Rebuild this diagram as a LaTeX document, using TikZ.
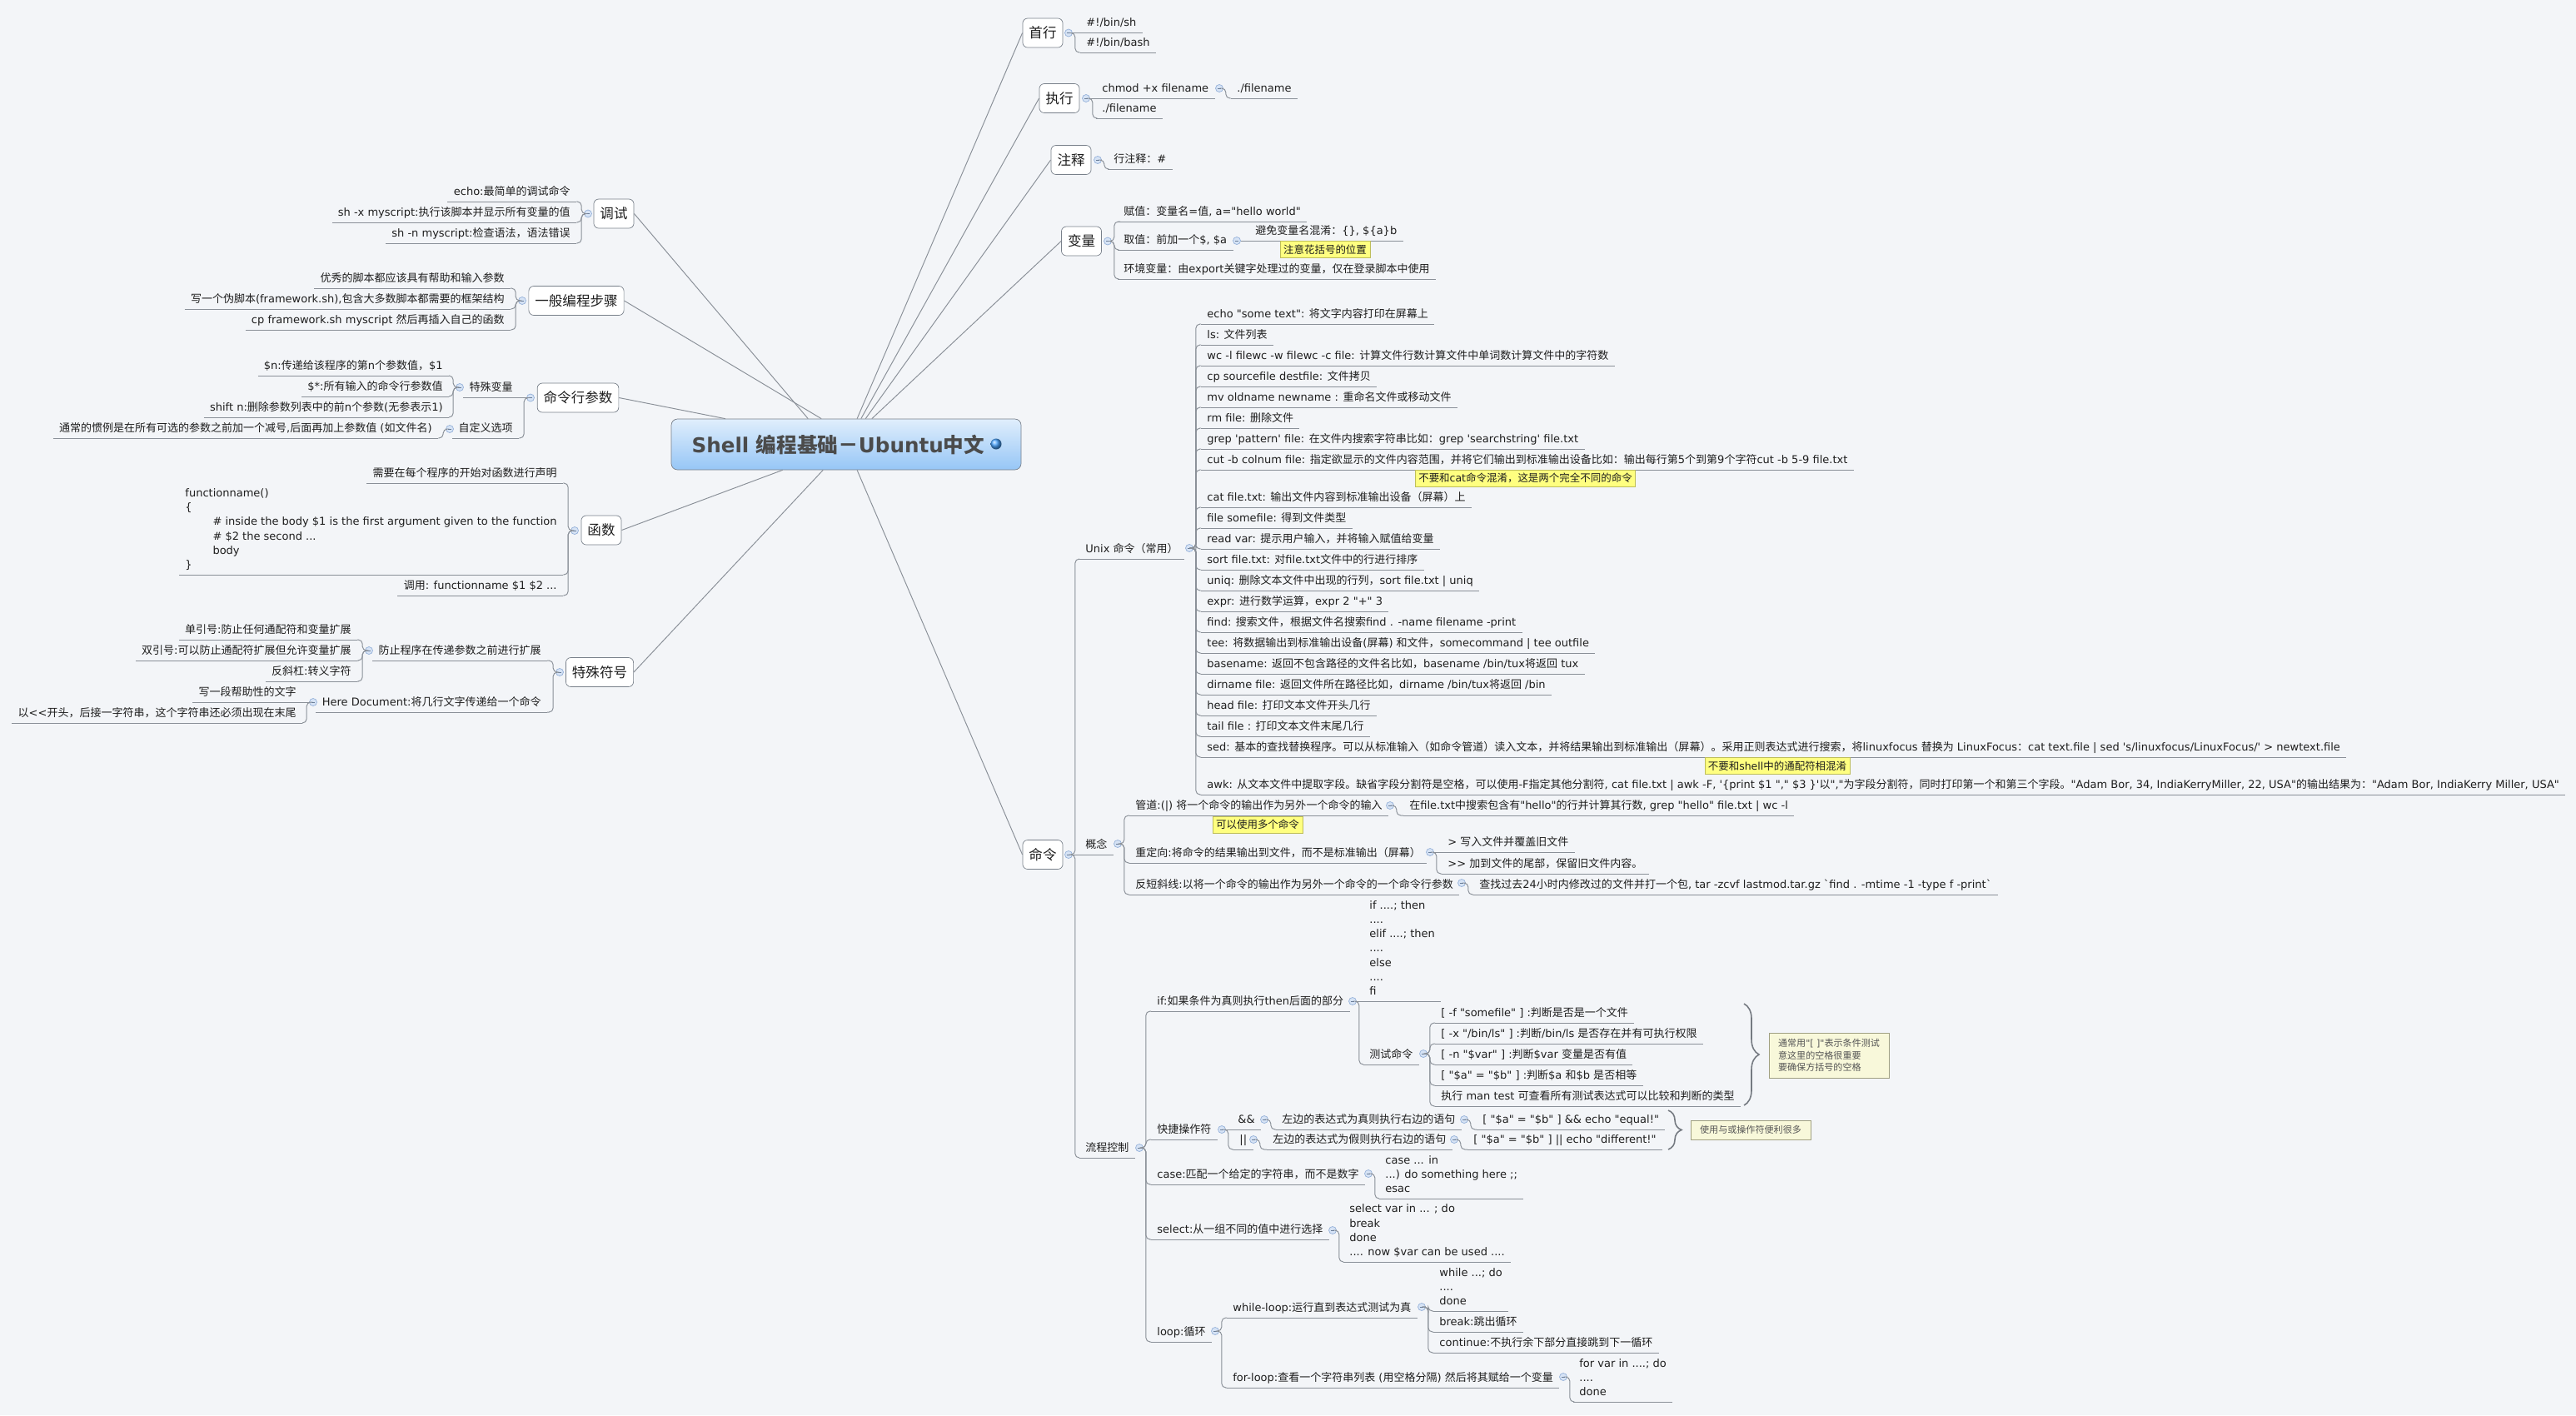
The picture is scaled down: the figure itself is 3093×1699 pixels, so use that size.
\documentclass[tikz,border=0pt]{standalone}
\usepackage{fontspec}
\setmainfont{DejaVu Sans}
\newfontfamily\latinfont{DejaVu Sans}
\newfontfamily\cjkfont{Noto Sans CJK SC}
\usetikzlibrary{decorations.pathreplacing}

% CJK characters switch to the CJK font by themselves
\newXeTeXintercharclass\cjkclass
\count255="3000
\loop
  \XeTeXcharclass\count255=\cjkclass
  \ifnum\count255<"9FFF \advance\count255 by 1
\repeat
\count255="FF00
\loop
  \XeTeXcharclass\count255=\cjkclass
  \ifnum\count255<"FFEF \advance\count255 by 1
\repeat
\XeTeXinterchartoks 0 \cjkclass={\cjkfont}
\XeTeXinterchartoks 4095 \cjkclass={\cjkfont}
\XeTeXinterchartoks \cjkclass 0={\latinfont}
\XeTeXinterchartoks \cjkclass 4095={\latinfont}
\XeTeXinterchartokenstate=1

\definecolor{cPaper}{RGB}{243,245,248}
\definecolor{cWire}{RGB}{138,144,152}
\definecolor{cInk}{RGB}{30,30,30}
\definecolor{cBox}{RGB}{120,128,138}
\definecolor{cKnob}{RGB}{214,227,245}
\definecolor{cKnobLine}{RGB}{150,178,218}
\definecolor{cTag}{RGB}{255,255,128}
\definecolor{cTagLine}{RGB}{190,190,90}
\definecolor{cMemo}{RGB}{248,248,218}
\definecolor{cMemoLine}{RGB}{160,160,130}
\definecolor{cTitleTop}{RGB}{224,238,252}
\definecolor{cTitleBot}{RGB}{150,198,246}

\newcommand\leafsize{\fontsize{7.4}{9.7}\latinfont}

\tikzset{
  wire/.style={draw=cWire, line width=0.55pt, rounded corners=1mm},
  titlebox/.style={draw=cBox, rounded corners=1.5mm, top color=cTitleTop, bottom color=cTitleBot,
    minimum width=84mm, minimum height=12.2mm, font=\fontsize{14}{16}\latinfont\bfseries, text=cInk!80},
  topic/.style={draw=cBox, fill=white, rounded corners=1.2mm, minimum height=7mm, inner xsep=4.3pt,
    font=\fontsize{9.4}{11}\latinfont, text=cInk},
  leaf/.style={font=\leafsize, text=cInk, inner xsep=4pt, inner ysep=2.5pt, text height=6pt, text depth=1.8pt,
    append after command={(\tikzlastnode.south west) edge[draw=cWire, line width=0.55pt] (\tikzlastnode.south east)}},
  leafr/.style={leaf, anchor=south west},
  leafl/.style={leaf, anchor=south east},
  block/.style={font=\leafsize, text=cInk, align=left, inner xsep=4pt, inner ysep=2.5pt, text depth=1.8pt,
    append after command={(\tikzlastnode.south west) edge[draw=cWire, line width=0.55pt] (\tikzlastnode.south east)}},
  blockr/.style={block, anchor=south west},
  blockl/.style={block, anchor=south east},
  knob/.style={circle, draw=cKnobLine, fill=cKnob, line width=0.4pt, minimum size=1.8mm, inner sep=0pt,
    path picture={\draw[cKnobLine!70!black, line width=0.5pt]
      ([xshift=-0.45mm]path picture bounding box.center) -- ([xshift=0.45mm]path picture bounding box.center);}},
  tagbox/.style={fill=cTag, draw=cTagLine, line width=0.4pt, font=\fontsize{7.1}{9}\latinfont, text=cInk,
    inner xsep=2.3pt, inner ysep=1.5pt, minimum height=4mm},
  memobox/.style={fill=cMemo, draw=cMemoLine, line width=0.5pt, font=\fontsize{6.3}{8.3}\latinfont,
    text=cInk!75, align=left, inner sep=2.5pt, minimum width=28.8mm},
  sumbrace/.style={draw=cWire!85!black, line width=0.9pt, decorate, decoration={brace, amplitude=3.6mm, aspect=0.5}}
}

\begin{document}
\begin{tikzpicture}[x=0.2mm,y=-0.2mm]
  \fill[cPaper] (0,0) rectangle (3093,1699);
  \useasboundingbox (0,0) rectangle (3093,1699);

  % Central topic
  \node[titlebox] (title) at (1016,533.5) {Shell 编程基础－Ubuntu中文\hspace*{11pt}};
  \shade[ball color=cyan!50!blue!70] (1196,533) circle[radius=1.3mm];

  % Main topics, right side
  \node[topic] (tFirst) at (1252,39.5) {首行};
  \node[topic] (tExec) at (1272,118) {执行};
  \node[topic] (tComment) at (1286,192) {注释};
  \node[topic] (tVar) at (1298.5,289.5) {变量};
  \node[topic] (tCmd) at (1252,1026) {命令};
  % Main topics, left side
  \node[topic] (tDebug) at (737,256.5) {调试};
  \node[topic] (tSteps) at (692,361) {一般编程步骤};
  \node[topic] (tArgs) at (694,477.5) {命令行参数};
  \node[topic] (tFunc) at (722,636.5) {函数};
  \node[topic] (tSpecial) at (720,807) {特殊符号};

  \draw[wire] (title.67) -- (tFirst.west);
  \draw[wire] (title.60) -- (tExec.west);
  \draw[wire] (title.53) -- (tComment.west);
  \draw[wire] (title.45) -- (tVar.west);
  \draw[wire] (title.293) -- (tCmd.west);
  \draw[wire] (title.146) -- (tDebug.east);
  \draw[wire] (title.134) -- (tSteps.east);
  \draw[wire] (title.168) -- (tArgs.east);
  \draw[wire] (title.202) -- (tFunc.east);
  \draw[wire] (title.228) -- (tSpecial.east);

  % 首行
  \node[knob] (kFirst) at (1283,39.5) {};
  \node[leafr] (first1) at (1297,39.5) {\#!/bin/sh};
  \node[leafr] (first2) at (1297,63) {\#!/bin/bash};
  \draw[wire] (kFirst.east) -- (first1.south west);
  \draw[wire] (kFirst.east) -- ++(3,0) |- (first2.south west);

  % 执行
  \node[knob] (kExec) at (1304,118) {};
  \node[leafr] (exec1) at (1316,118) {chmod +x filename};
  \node[knob] (kExec1) at (1464,106) {};
  \node[leafr] (exec11) at (1478,118) {./filename};
  \node[leafr] (exec2) at (1316,142) {./filename};
  \draw[wire] (kExec.east) -- (exec1.south west);
  \draw[wire] (kExec.east) -- ++(3,0) |- (exec2.south west);
  \draw[wire] (kExec1.east) -- ++(3,0) |- (exec11.south west);

  % 注释
  \node[knob] (kComment) at (1318,192) {};
  \node[leafr] (comment1) at (1330,203) {行注释：\#};
  \draw[wire] (kComment.east) -- ++(3,0) |- (comment1.south west);

  % 变量
  \node[knob] (kVar) at (1330,289.5) {};
  \node[leafr] (var1) at (1342,266) {赋值：变量名=值, a="hello world"};
  \node[leafr] (var2) at (1342,300) {取值：前加一个\$, \$a};
  \node[knob] (kVar2) at (1485,289) {};
  \node[leafr] (var21) at (1500,289) {避免变量名混淆：\{\}, \$\{a\}b};
  \node[tagbox] (var21Tag) at (1591,299.5) {注意花括号的位置};
  \node[leafr] (var3) at (1342,335) {环境变量：由export关键字处理过的变量，仅在登录脚本中使用};
  \draw[wire] (kVar.east) -- ++(3,0) |- (var1.south west);
  \draw[wire] (kVar.east) -- ++(3,0) |- (var2.south west);
  \draw[wire] (kVar.east) -- ++(3,0) |- (var3.south west);
  \draw[wire] (kVar2.east) -- (var21.south west);

  % 调试
  \node[knob] (kDebug) at (706,256.5) {};
  \node[leafl] (debug1) at (692,242) {echo:最简单的调试命令};
  \node[leafl] (debug2) at (692,267) {sh -x myscript:执行该脚本并显示所有变量的值};
  \node[leafl] (debug3) at (692,292) {sh -n myscript:检查语法，语法错误};
  \foreach \n in {debug1,debug2,debug3}
    \draw[wire] (kDebug.west) -- ++(-3,0) |- (\n.south east);

  % 一般编程步骤
  \node[knob] (kSteps) at (627,361) {};
  \node[leafl] (steps1) at (613,346) {优秀的脚本都应该具有帮助和输入参数};
  \node[leafl] (steps2) at (613,371) {写一个伪脚本(framework.sh),包含大多数脚本都需要的框架结构};
  \node[leafl] (steps3) at (613,396) {cp framework.sh myscript 然后再插入自己的函数};
  \foreach \n in {steps1,steps2,steps3}
    \draw[wire] (kSteps.west) -- ++(-3,0) |- (\n.south east);

  % 命令行参数
  \node[knob] (kArgs) at (637,477.5) {};
  \node[leafl] (args1) at (623,477.5) {特殊变量};
  \node[knob] (kArgs1) at (552,465) {};
  \node[leafl] (args11) at (539,451) {\$n:传递给该程序的第n个参数值，\$1};
  \node[leafl] (args12) at (539,476) {\$*:所有输入的命令行参数值};
  \node[leafl] (args13) at (539,501) {shift n:删除参数列表中的前n个参数(无参表示1)};
  \node[leafl] (args2) at (623,526) {自定义选项};
  \node[knob] (kArgs2) at (540,515) {};
  \node[leafl] (args21) at (526,526) {通常的惯例是在所有可选的参数之前加一个减号,后面再加上参数值 (如文件名)};
  \draw[wire] (kArgs.west) -- (args1.south east);
  \draw[wire] (kArgs.west) -- ++(-3,0) |- (args2.south east);
  \foreach \n in {args11,args12,args13}
    \draw[wire] (kArgs1.west) -- ++(-3,0) |- (\n.south east);
  \draw[wire] (kArgs2.west) -- ++(-3,0) |- (args21.south east);

  % 函数
  \node[knob] (kFunc) at (690,637) {};
  \node[leafl] (func1) at (676,580) {需要在每个程序的开始对函数进行声明};
  \node[blockl] (func2) at (676,690) {functionname()\\
    \{\\
    \hspace*{18.8pt}\# inside the body \$1 is the first argument given to the function\\
    \hspace*{18.8pt}\# \$2 the second ...\\
    \hspace*{18.8pt}body\\
    \}};
  \node[leafl] (func3) at (676,715) {调用: functionname \$1 \$2 ...};
  \foreach \n in {func1,func2,func3}
    \draw[wire] (kFunc.west) -- ++(-3,0) |- (\n.south east);

  % 特殊符号
  \node[knob] (kSpecial) at (672,807) {};
  \node[leafl] (special1) at (657,793) {防止程序在传递参数之前进行扩展};
  \node[knob] (kSpecial1) at (443,781) {};
  \node[leafl] (special11) at (429,768) {单引号:防止任何通配符和变量扩展};
  \node[leafl] (special12) at (429,793) {双引号:可以防止通配符扩展但允许变量扩展};
  \node[leafl] (special13) at (429,818) {反斜杠:转义字符};
  \node[leafl] (special2) at (657,855) {Here Document:将几行文字传递给一个命令};
  \node[knob] (kSpecial2) at (376,843) {};
  \node[leafl] (special21) at (363,843) {写一段帮助性的文字};
  \node[leafl] (special22) at (363,868) {以<<开头，后接一字符串，这个字符串还必须出现在末尾};
  \foreach \n in {special1,special2}
    \draw[wire] (kSpecial.west) -- ++(-3,0) |- (\n.south east);
  \foreach \n in {special11,special12,special13}
    \draw[wire] (kSpecial1.west) -- ++(-3,0) |- (\n.south east);
  \draw[wire] (kSpecial2.west) -- (special21.south east);
  \draw[wire] (kSpecial2.west) -- ++(-3,0) |- (special22.south east);

  % 命令
  \node[knob] (kCmd) at (1283,1026) {};
  \node[leafr] (unix) at (1296,671) {Unix 命令（常用）};
  \node[leafr] (concept) at (1296,1026) {概念};
  \node[leafr] (flow) at (1296,1390) {流程控制};
  \draw[wire] (kCmd.east) -- ++(3,0) |- (unix.south west);
  \draw[wire] (kCmd.east) -- (concept.south west);
  \draw[wire] (kCmd.east) -- ++(3,0) |- (flow.south west);

  % Unix 命令
  \node[knob] (kUnix) at (1428,658) {};
  \node[leafr] (unix1) at (1442,389) {echo "some text": 将文字内容打印在屏幕上};
  \node[leafr] (unix2) at (1442,414) {ls: 文件列表};
  \node[leafr] (unix3) at (1442,439) {wc -l filewc -w filewc -c file: 计算文件行数计算文件中单词数计算文件中的字符数};
  \node[leafr] (unix4) at (1442,464) {cp sourcefile destfile: 文件拷贝};
  \node[leafr] (unix5) at (1442,489) {mv oldname newname : 重命名文件或移动文件};
  \node[leafr] (unix6) at (1442,514) {rm file: 删除文件};
  \node[leafr] (unix7) at (1442,539) {grep 'pattern' file: 在文件内搜索字符串比如：grep 'searchstring' file.txt};
  \node[leafr] (unix8) at (1442,564) {cut -b colnum file: 指定欲显示的文件内容范围，并将它们输出到标准输出设备比如：输出每行第5个到第9个字符cut -b 5-9 file.txt};
  \node[tagbox] (unix8Tag) at (1831.5,574) {不要和cat命令混淆，这是两个完全不同的命令};
  \node[leafr] (unix9) at (1442,609) {cat file.txt: 输出文件内容到标准输出设备（屏幕）上};
  \node[leafr] (unix10) at (1442,634) {file somefile: 得到文件类型};
  \node[leafr] (unix11) at (1442,659) {read var: 提示用户输入，并将输入赋值给变量};
  \node[leafr] (unix12) at (1442,684) {sort file.txt: 对file.txt文件中的行进行排序};
  \node[leafr] (unix13) at (1442,709) {uniq: 删除文本文件中出现的行列，sort file.txt | uniq};
  \node[leafr] (unix14) at (1442,734) {expr: 进行数学运算，expr 2 "+" 3};
  \node[leafr] (unix15) at (1442,759) {find: 搜索文件，根据文件名搜索find . -name filename -print};
  \node[leafr] (unix16) at (1442,784) {tee: 将数据输出到标准输出设备(屏幕) 和文件，somecommand | tee outfile};
  \node[leafr] (unix17) at (1442,809) {basename: 返回不包含路径的文件名比如，basename /bin/tux将返回 tux};
  \node[leafr] (unix18) at (1442,834) {dirname file: 返回文件所在路径比如，dirname /bin/tux将返回 /bin};
  \node[leafr] (unix19) at (1442,859) {head file: 打印文本文件开头几行};
  \node[leafr] (unix20) at (1442,884) {tail file : 打印文本文件末尾几行};
  \node[leafr] (unix21) at (1442,909) {sed: 基本的查找替换程序。可以从标准输入（如命令管道）读入文本，并将结果输出到标准输出（屏幕）。采用正则表达式进行搜索，将linuxfocus 替换为 LinuxFocus：cat text.file | sed 's/linuxfocus/LinuxFocus/' > newtext.file};
  \node[tagbox] (unix21Tag) at (2134,919.5) {不要和shell中的通配符相混淆};
  \node[leafr] (unix22) at (1442,954) {awk: 从文本文件中提取字段。缺省字段分割符是空格，可以使用-F指定其他分割符, cat file.txt | awk -F, '\{print \$1 "," \$3 \}'以","为字段分割符，同时打印第一个和第三个字段。"Adam Bor, 34, IndiaKerryMiller, 22, USA"的输出结果为："Adam Bor, IndiaKerry Miller, USA"};
  \foreach \i in {1,...,22}
    \draw[wire] (kUnix.east) -- ++(3,0) |- (unix\i.south west);

  % 概念
  \node[knob] (kConcept) at (1342,1013) {};
  \node[leafr] (con1) at (1356,979) {管道:(|) 将一个命令的输出作为另外一个命令的输入};
  \node[knob] (kCon1) at (1669,967) {};
  \node[leafr] (con11) at (1685,979) {在file.txt中搜索包含有"hello"的行并计算其行数, grep "hello" file.txt | wc -l};
  \node[tagbox] (con1Tag) at (1510,990) {可以使用多个命令};
  \node[leafr] (con2) at (1356,1036) {重定向:将命令的结果输出到文件，而不是标准输出（屏幕）};
  \node[knob] (kCon2) at (1717,1023) {};
  \node[leafr] (con21) at (1731,1023) {> 写入文件并覆盖旧文件};
  \node[leafr] (con22) at (1731,1049) {>> 加到文件的尾部，保留旧文件内容。};
  \node[leafr] (con3) at (1356,1074) {反短斜线:以将一个命令的输出作为另外一个命令的一个命令行参数};
  \node[knob] (kCon3) at (1755,1060) {};
  \node[leafr] (con31) at (1769,1074) {查找过去24小时内修改过的文件并打一个包, tar -zcvf lastmod.tar.gz `find . -mtime -1 -type f -print`};
  \foreach \n in {con1,con2,con3}
    \draw[wire] (kConcept.east) -- ++(3,0) |- (\n.south west);
  \draw[wire] (kCon1.east) -- ++(3,0) |- (con11.south west);
  \draw[wire] (kCon2.east) -- (con21.south west);
  \draw[wire] (kCon2.east) -- ++(3,0) |- (con22.south west);
  \draw[wire] (kCon3.east) -- ++(3,0) |- (con31.south west);

  % 流程控制
  \node[knob] (kFlow) at (1368,1378) {};
  \node[leafr] (flow1) at (1382,1214) {if:如果条件为真则执行then后面的部分};
  \node[leafr] (flow2) at (1382,1368) {快捷操作符};
  \node[leafr] (flow3) at (1382,1422) {case:匹配一个给定的字符串，而不是数字};
  \node[leafr] (flow4) at (1382,1488) {select:从一组不同的值中进行选择};
  \node[leafr] (flow5) at (1382,1611) {loop:循环};
  \foreach \i in {1,...,5}
    \draw[wire] (kFlow.east) -- ++(3,0) |- (flow\i.south west);

  % if
  \node[knob] (kIf) at (1624,1202) {};
  \node[blockr] (if1) at (1637,1202) {if ....; then\\....\\elif ....; then\\....\\else\\....\\fi};
  \node[leafr] (if2) at (1637,1278) {测试命令};
  \draw[wire] (kIf.east) -- (if1.south west);
  \draw[wire] (kIf.east) -- ++(3,0) |- (if2.south west);
  \node[knob] (kTest) at (1709,1265) {};
  \node[leafr] (test1) at (1723,1228) {[ -f "somefile" ] :判断是否是一个文件};
  \node[leafr] (test2) at (1723,1253) {[ -x "/bin/ls" ] :判断/bin/ls 是否存在并有可执行权限};
  \node[leafr] (test3) at (1723,1278) {[ -n "\$var" ] :判断\$var 变量是否有值};
  \node[leafr] (test4) at (1723,1303) {[ "\$a" = "\$b" ] :判断\$a 和\$b 是否相等};
  \node[leafr] (test5) at (1723,1328) {执行 man test 可查看所有测试表达式可以比较和判断的类型};
  \foreach \i in {1,...,5}
    \draw[wire] (kTest.east) -- ++(3,0) |- (test\i.south west);
  \draw[sumbrace] (2094,1205) -- (2094,1327);
  \node[memobox, minimum height=10.8mm] (testMemo) at (2196,1267) {通常用"[ ]"表示条件测试\\意这里的空格很重要\\要确保方括号的空格};

  % 快捷操作符
  \node[knob] (kShort) at (1467,1356) {};
  \node[leafr] (and1) at (1479,1356) {\&\&};
  \node[knob] (kAnd1) at (1518,1344) {};
  \node[leafr] (and2) at (1532,1356) {左边的表达式为真则执行右边的语句};
  \node[knob] (kAnd2) at (1758,1344) {};
  \node[leafr] (and3) at (1773,1356) {[ "\$a" = "\$b" ] \&\& echo "equal!"};
  \node[leafr] (or1) at (1481,1380) {||};
  \node[knob] (kOr1) at (1505,1368) {};
  \node[leafr] (or2) at (1521,1380) {左边的表达式为假则执行右边的语句};
  \node[knob] (kOr2) at (1746,1368) {};
  \node[leafr] (or3) at (1762,1380) {[ "\$a" = "\$b" ] || echo "different!"};
  \draw[wire] (kShort.east) -- (and1.south west);
  \draw[wire] (kShort.east) -- ++(3,0) |- (or1.south west);
  \draw[wire] (kAnd1.east) -- ++(3,0) |- (and2.south west);
  \draw[wire] (kAnd2.east) -- ++(3,0) |- (and3.south west);
  \draw[wire] (kOr1.east) -- ++(3,0) |- (or2.south west);
  \draw[wire] (kOr2.east) -- ++(3,0) |- (or3.south west);
  \draw[sumbrace, decoration={brace, amplitude=3.2mm, aspect=0.5}] (2003,1333) -- (2003,1380);
  \node[memobox, minimum height=4.6mm] (shortMemo) at (2102,1356.5) {使用与或操作符便利很多};

  % case / select
  \node[knob] (kCase) at (1643,1409) {};
  \node[blockr] (case1) at (1656,1439) {case ... in\\...) do something here ;;\\esac};
  \draw[wire] (kCase.east) -- ++(3,0) |- (case1.south west);
  \node[knob] (kSelect) at (1600,1477) {};
  \node[blockr] (select1) at (1613,1515) {select var in ... ; do\\break\\done\\.... now \$var can be used ....};
  \draw[wire] (kSelect.east) -- ++(3,0) |- (select1.south west);

  % loop
  \node[knob] (kLoop) at (1459,1598) {};
  \node[leafr] (loop1) at (1473,1582) {while-loop:运行直到表达式测试为真};
  \node[leafr] (loop2) at (1473,1666) {for-loop:查看一个字符串列表 (用空格分隔) 然后将其赋给一个变量};
  \draw[wire] (kLoop.east) -- ++(3,0) |- (loop1.south west);
  \draw[wire] (kLoop.east) -- ++(3,0) |- (loop2.south west);
  \node[knob] (kWhile) at (1707,1569) {};
  \node[blockr] (while1) at (1721,1574) {while ...; do\\....\\done};
  \node[leafr] (while2) at (1721,1599) {break:跳出循环};
  \node[leafr] (while3) at (1721,1624) {continue:不执行余下部分直接跳到下一循环};
  \foreach \i in {1,2,3}
    \draw[wire] (kWhile.east) -- ++(3,0) |- (while\i.south west);
  \node[knob] (kFor) at (1877,1653) {};
  \node[blockr] (for1) at (1889,1683) {for var in ....; do\\....\\done};
  \draw[wire] (kFor.east) -- ++(3,0) |- (for1.south west);
\end{tikzpicture}
\end{document}
